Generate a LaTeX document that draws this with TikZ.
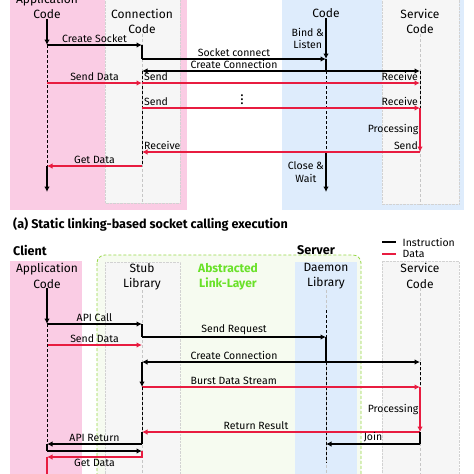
\documentclass[tikz,border=0pt]{standalone}
\usepackage{fontspec}
\setmainfont{Fira Sans}
\usetikzlibrary{arrows.meta}

\definecolor{appPink}{RGB}{250,204,228}
\definecolor{srvBlue}{RGB}{222,236,252}
\definecolor{boxGray}{RGB}{246,246,246}
\definecolor{linkGreen}{RGB}{246,251,240}
\definecolor{edgeGreen}{RGB}{150,215,70}
\definecolor{textGreen}{RGB}{105,225,40}
\definecolor{dataRed}{RGB}{232,28,64}

\begin{document}
\begin{tikzpicture}[x=1pt,y=-1pt,
    col/.style = {draw=gray!35,densely dotted,fill=boxGray},
    head/.style = {align=center,anchor=north,inner sep=0pt,font=\fontsize{12}{15.5}\selectfont},
    lbl/.style = {inner sep=1.5pt,text=black,font=\fontsize{10.5}{12.5}\selectfont},
    ttl/.style = {anchor=west,inner sep=0pt,font=\bfseries\fontsize{12.6}{14}\selectfont},
    ins/.style = {line width=1.2pt,-{Latex[length=5.5pt,width=5.5pt]}},
    dat/.style = {ins,dataRed},
    bar/.style = {line width=1.2pt},
    life/.style = {gray!45,densely dashed,line width=0.5pt},
    wait/.style = {densely dashed,line width=0.8pt}]
\useasboundingbox (0,0) rectangle (474,474);
\foreach \y in {45,59,71,83,108,152,166,324,337,345,362,387,432,444,451,457}
    \foreach \n/\x in {a/47,c/142,s/326,v/420} \coordinate (\n\y) at (\x,\y);
\coordinate (aEnd) at (47,192);
\coordinate (sEnd) at (326,192);
\coordinate (cFoot) at (142,203);
\coordinate (vFoot) at (420,204);
\coordinate (sWake) at (326,310);
\coordinate (sLow) at (326,463);
\coordinate (aFoot) at (47,480);

% (a) static linking
\fill[appPink] (10,-5) rectangle (187,210);
\fill[srvBlue] (282,-5) rectangle (464,210);
\filldraw[col] (105,-5) rectangle (180,203);
\filldraw[col] (382,-5) rectangle (459,204);
\node[head] (appT) at (47,-6.5) {Application\\Code};
\node[head] (conT) at (142,8.5) {Connection\\Code};
\node[head] (srvT) at (326,8.5) {Code};
\node[head] (svcT) at (420,8.5) {Service\\Code};
\draw[life] (conT.south) -- (cFoot);
\draw[life] (svcT.south) -- (vFoot);

\draw[ins] (appT.south) -- (a45);
\draw[ins] (a45) -- node[lbl,above] {Create Socket} (c45);
\draw[bar] (c45) -- (c59);
\draw[ins] (c59) -- node[lbl,above] {Socket connect} (s59);
\draw[ins] (srvT.south) -- node[lbl,left,align=center] {Bind \&\\Listen} (s59);
\draw[bar] (s59) -- (s71);
\draw[ins] (s71) -- node[lbl,above] {Create Connection} (c71);
\draw[ins] (s71) -- (v71);
\draw[wait] (a45) -- (a166);
\draw[ins] (a166) -- (aEnd);
\draw[wait] (c71) -- (c166);
\draw[wait] (s71) -- (s152);
\draw[ins] (s152) -- node[lbl,left,align=center] {Close \&\\Wait} (sEnd);
\draw[wait] (v71) -- (v108);
\draw[dat] (a83) -- node[lbl,above] {Send Data} (c83);
\draw[dat] (c83) -- node[lbl,pos=0,above right] {Send} node[lbl,pos=1,above left] {Receive} (v83);
\node[lbl,font=\fontsize{14}{14}\selectfont] (dots) at (242,97) {$\vdots$};
\draw[dat] (c108) -- node[lbl,pos=0,above right] {Send} node[lbl,pos=1,above left] {Receive} (v108);
\draw[dat] (v108) -- node[lbl,left,inner sep=1pt] {Processing} (v152);
\draw[dat] (v152) -- node[lbl,pos=0,above left] {Send} node[lbl,pos=1,above right] {Receive} (c152);
\draw[dat] (c166) -- node[lbl,above] {Get Data} (a166);

\node[ttl] (capA) at (13,224) {(a) Static linking-based socket calling execution};

% (b) abstracted link layer
\node[ttl] (client) at (13,250) {Client};
\node[ttl,anchor=center] (server) at (316,250) {Server};
\node[lbl,anchor=west] (legIns) at (401,242) {Instruction};
\node[lbl,anchor=west] (legDat) at (401,254) {Data};
\draw[bar] ([xshift=-19pt]legIns.west) -- ([xshift=-5pt]legIns.west);
\draw[bar,dataRed] ([xshift=-19pt]legDat.west) -- ([xshift=-5pt]legDat.west);

\fill[appPink] (10,261) rectangle (82,480);
\draw[edgeGreen,densely dashed,line width=0.8pt,fill=linkGreen,rounded corners=8pt] (97,255) rectangle (361,490);
\filldraw[col] (105,262) rectangle (180,480);
\fill[srvBlue] (295,262) rectangle (357,480);
\filldraw[col] (382,261) rectangle (459,480);
\node[head] (appB) at (47,263) {Application\\Code};
\node[head] (stubB) at (142,263) {Stub\\Library};
\node[head,font=\bfseries\fontsize{12}{15.5}\selectfont,textGreen] (link) at (228,263) {Abstracted\\Link-Layer};
\node[head] (dmnB) at (326,263) {Daemon\\Library};
\node[head] (svcB) at (420,263) {Service\\Code};
\draw[life] (stubB.south) -- (142,480);
\draw[life] (dmnB.south) -- (326,480);
\draw[life] (svcB.south) -- (420,480);

\draw[ins] (appB.south) -- (a324);
\draw[ins] (a324) -- node[lbl,above] {API Call} (c324);
\draw[bar] (c324) -- (c337);
\draw[wait] (sWake) -- (s337);
\draw[ins] (c337) -- node[lbl,above] {Send Request} (s337);
\draw[dat] (a345) -- node[lbl,above] {Send Data} (c345);
\draw[bar] (s337) -- (s362);
\draw[ins] (s362) -- node[lbl,above] {Create Connection} (c362);
\draw[ins] (s362) -- (v362);
\draw[wait] (a324) -- (a444);
\draw[ins] (c362) -- (c387);
\draw[wait] (s362) -- (sLow);
\draw[wait] (v362) -- (v387);
\draw[dat] (c387) -- node[lbl,pos=0.33,above] {Burst Data Stream} (v387);
\draw[dat] (v387) -- node[lbl,left,inner sep=1pt] {Processing} (v432);
\draw[wait] (c387) -- (c432);
\draw[dat] (v432) -- node[lbl,pos=0.59,above] {Return Result} (c432);
\draw[bar] (v432) -- (v444);
\draw[ins] (v444) -- node[lbl,above] {Join} (s444);
\draw[bar] (c432) -- (c444);
\draw[ins] (c444) -- node[lbl,above] {API Return} (a444);
\draw[bar] (a444) -- (a451);
\draw[ins] (a451) -- (c451);
\draw[dat] (c451) -- (c457) -- node[lbl,below] {Get Data} (a457);
\draw[bar,dataRed] (a457) -- (aFoot);
\end{tikzpicture}
\end{document}
